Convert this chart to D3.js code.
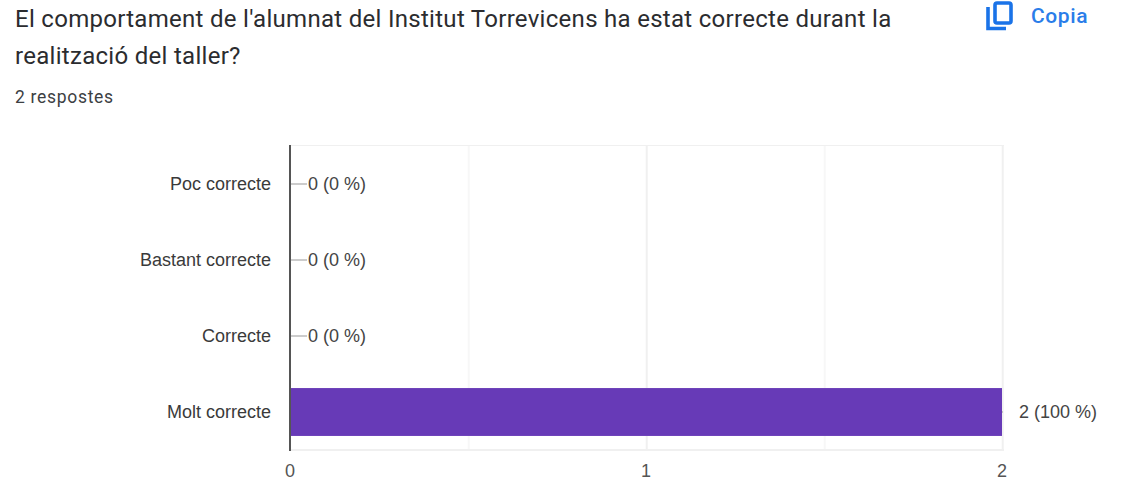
<!DOCTYPE html>
<html>
<head>
<meta charset="utf-8">
<script src="https://cdn.jsdelivr.net/npm/d3@7"></script>
<style>
  html, body { margin: 0; padding: 0; background: #fff; overflow: hidden; }
  svg { display: block; }
</style>
</head>
<body>
<svg id="chart" width="1123" height="487"></svg>
<script>
const titleLines = ["El comportament de l'alumnat del Institut Torrevicens ha estat correcte durant la", "realització del taller?"];
const responsesLabel = "2 respostes";
const copyLabel = "Copia";
const categories = ["Poc correcte", "Bastant correcte", "Correcte", "Molt correcte"];
const counts = [0, 0, 0, 2];
const percents = ["0 %", "0 %", "0 %", "100 %"];
const tickValues = [0, 1, 2];
const gridValues = [0.5, 1, 1.5, 2];

const svg = d3.select("#chart");
const plot = {left: 290, right: 1002, top: 146, bottom: 450};
const chartFont = "Arial, 'Liberation Sans', sans-serif";

const x = d3.scaleLinear().domain([0, 2]).range([plot.left, plot.right]);
const y = d3.scaleBand().domain(categories).range([plot.top, plot.bottom]).paddingInner(0.37).paddingOuter(0.185);

// header
svg.selectAll(".title")
  .data(titleLines)
  .enter()
  .append("text")
  .attr("class", "title")
  .attr("x", 15)
  .attr("y", (d, i) => 27 + i * 36.5)
  .attr("font-family", "Roboto, sans-serif")
  .attr("font-size", 24)
  .attr("letter-spacing", 0.29)
  .attr("fill", "#2b2c2f")
  .text(d => d);

svg.append("text")
  .attr("x", 15)
  .attr("y", 103)
  .attr("font-family", "Roboto, sans-serif")
  .attr("font-size", 17.5)
  .attr("letter-spacing", 0.7)
  .attr("fill", "#3c4043")
  .text(responsesLabel);

// copy button
const icon = svg.append("g").attr("fill", "none").attr("stroke", "#1a73e8").attr("stroke-width", 3.6);
icon.append("rect").attr("x", 995).attr("y", 3).attr("width", 16).attr("height", 20).attr("rx", 2);
icon.append("path").attr("d", "M988 7V28.5H1006");

svg.append("text")
  .attr("x", 1031)
  .attr("y", 23)
  .attr("font-family", "Roboto, sans-serif")
  .attr("font-size", 21)
  .attr("font-weight", 500)
  .attr("letter-spacing", 0.6)
  .attr("fill", "#2a7de9")
  .text(copyLabel);

// grid, drawn just right of the scale position
svg.selectAll(".grid")
  .data(gridValues)
  .enter()
  .append("line")
  .attr("x1", d => x(d) + 0.75)
  .attr("x2", d => x(d) + 0.75)
  .attr("y1", plot.top)
  .attr("y2", plot.bottom)
  .attr("stroke", d => d === 0.5 || d === 1.5 ? "#f7f7f7" : "#f0f0f0")
  .attr("stroke-width", 2);

[plot.top - 0.5, plot.bottom].forEach(yy => {
  svg.append("line")
    .attr("x1", plot.left)
    .attr("x2", plot.right + 2)
    .attr("y1", yy)
    .attr("y2", yy)
    .attr("stroke", "#f0f0f0")
    .attr("stroke-width", yy === plot.bottom ? 2 : 1);
});

// bars
svg.selectAll(".bar")
  .data(categories)
  .enter()
  .append("rect")
  .attr("class", "bar")
  .attr("x", x(0))
  .attr("y", d => y(d))
  .attr("width", (d, i) => x(counts[i]) - x(0))
  .attr("height", y.bandwidth())
  .attr("fill", "#673ab7");

// leader lines and value labels
const labelY = d => y(d) + y.bandwidth() / 2;

svg.selectAll(".leader")
  .data(categories)
  .enter()
  .append("line")
  .attr("x1", (d, i) => x(counts[i]))
  .attr("x2", (d, i) => x(counts[i]) + (counts[i] ? 1 : 17))
  .attr("y1", labelY)
  .attr("y2", labelY)
  .attr("stroke", "#999");

svg.selectAll(".value")
  .data(categories)
  .enter()
  .append("text")
  .attr("x", (d, i) => x(counts[i]) + (counts[i] ? 17 : 18))
  .attr("y", d => labelY(d) + 5.5)
  .attr("font-family", chartFont)
  .attr("font-size", 18)
  .attr("fill", "#444")
  .text((d, i) => `${counts[i]} (${percents[i]})`);

// category labels
svg.selectAll(".cat")
  .data(categories)
  .enter()
  .append("text")
  .attr("x", plot.left - 19)
  .attr("y", d => labelY(d) + 5.5)
  .attr("text-anchor", "end")
  .attr("font-family", chartFont)
  .attr("font-size", 18)
  .attr("fill", "#3a3a3a")
  .text(d => d);

// x axis ticks
svg.selectAll(".tick-label")
  .data(tickValues)
  .enter()
  .append("text")
  .attr("x", d => x(d))
  .attr("y", 477)
  .attr("text-anchor", "middle")
  .attr("font-family", chartFont)
  .attr("font-size", 18)
  .attr("fill", "#555")
  .text(d => d);

// baseline
svg.append("line")
  .attr("x1", x(0))
  .attr("x2", x(0))
  .attr("y1", plot.top - 1)
  .attr("y2", plot.bottom + 1)
  .attr("stroke", "#555")
  .attr("stroke-width", 2);
</script>
</body>
</html>
